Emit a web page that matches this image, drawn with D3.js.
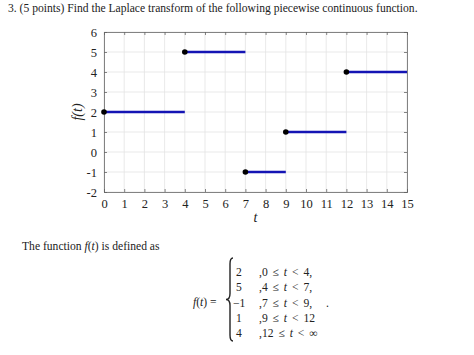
<!DOCTYPE html>
<html>
<head>
<meta charset="utf-8">
<script src="https://cdn.jsdelivr.net/npm/d3@7"></script>
<style>
  body { margin: 0; background: #fff; }
  svg text { font-family: "Liberation Serif", "DejaVu Serif", serif; fill: #222; }
</style>
</head>
<body>
<div id="chart"></div>
<script>
// piecewise data
const starts = [0, 4, 7, 9, 12];
const ends = [4, 7, 9, 12, 15];
const values = [2, 5, -1, 1, 4];
const xTicks = d3.range(0, 16);
const yTicks = d3.range(-2, 7);
const caseVals = ["2", "5", "\u22121", "1", "4"];
const caseConds = [",0 \u2264 t < 4,", ",4 \u2264 t < 7,", ",7 \u2264 t < 9,", ",9 \u2264 t < 12", ",12 \u2264 t < \u221e"];

const w = 474, h = 355;
const fs = "11.6px";
const svg = d3.select("#chart").append("svg").attr("width", w).attr("height", h);

// title
svg.append("text").attr("x", 8).attr("y", 12).style("font-size", fs)
  .text("3. (5 points) Find the Laplace transform of the following piecewise continuous function.");

const x = d3.scaleLinear().domain([0, 15]).range([104, 407]);
const y = d3.scaleLinear().domain([-2, 6]).range([192, 32]);

// grid
svg.append("g").selectAll("line").data(xTicks).enter().append("line")
  .attr("x1", d => x(d)).attr("x2", d => x(d)).attr("y1", y(-2)).attr("y2", y(6))
  .style("stroke", "#e3e3e3").style("stroke-width", 0.8);
svg.append("g").selectAll("line").data(yTicks).enter().append("line")
  .attr("y1", d => y(d)).attr("y2", d => y(d)).attr("x1", x(0)).attr("x2", x(15))
  .style("stroke", "#e3e3e3").style("stroke-width", 0.8);

// axes with inward ticks
const fmt = d => String(d);
svg.append("g").attr("transform", "translate(0," + y(-2) + ")")
  .call(d3.axisBottom(x).tickValues(xTicks).tickSize(-3).tickPadding(7).tickFormat(fmt));
svg.append("g").attr("transform", "translate(" + x(0) + ",0)")
  .call(d3.axisLeft(y).tickValues(yTicks).tickSize(-3).tickPadding(7).tickFormat(fmt));
svg.append("g").attr("transform", "translate(" + x(15) + ",0)")
  .call(d3.axisRight(y).tickValues(yTicks).tickSize(-3).tickFormat(""));
svg.append("g").attr("transform", "translate(0," + y(6) + ")")
  .call(d3.axisTop(x).tickValues(xTicks).tickSize(-3).tickFormat(""));
svg.selectAll(".domain, .tick line").style("stroke", "#666").style("stroke-width", 0.8);
svg.selectAll(".tick text").style("font-family", "Liberation Serif").style("font-size", "12.5px").style("fill", "#222");

// axis labels
svg.append("text").attr("x", x(7.5)).attr("y", 222).attr("text-anchor", "middle")
  .style("font-size", "14px").style("font-style", "italic").text("t");
svg.append("text").attr("transform", "translate(82," + y(2) + ") rotate(-90)").attr("text-anchor", "middle")
  .style("font-size", "14px").style("font-style", "italic").text("f(t)");

// segments
const segs = starts.map((s, i) => ({s: s, e: ends[i], v: values[i]}));
svg.append("g").selectAll("line").data(segs).enter().append("line")
  .attr("x1", d => x(d.s)).attr("x2", d => x(d.e)).attr("y1", d => y(d.v)).attr("y2", d => y(d.v))
  .style("stroke", "#1414b4").style("stroke-width", 2.5);
svg.append("g").selectAll("circle").data(segs).enter().append("circle")
  .attr("cx", d => x(d.s)).attr("cy", d => y(d.v)).attr("r", 2.8).style("fill", "#000");

// text below
const t2 = svg.append("text").attr("x", 22).attr("y", 250).style("font-size", fs);
t2.append("tspan").text("The function ");
t2.append("tspan").style("font-style", "italic").text("f");
t2.append("tspan").text("(");
t2.append("tspan").style("font-style", "italic").text("t");
t2.append("tspan").text(") is defined as");

const eq = svg.append("text").attr("x", 193).attr("y", 306).style("font-size", fs);
eq.append("tspan").style("font-style", "italic").text("f");
eq.append("tspan").text("(");
eq.append("tspan").style("font-style", "italic").text("t");
eq.append("tspan").text(") =");

// brace
const bx = 230, bt = 258, bb = 341, bm = (bt + bb) / 2;
svg.append("path")
  .attr("d", `M${bx + 3},${bt} Q${bx},${bt} ${bx},${bt + 6} L${bx},${bm - 6} Q${bx},${bm} ${bx - 4},${bm} Q${bx},${bm} ${bx},${bm + 6} L${bx},${bb - 6} Q${bx},${bb} ${bx + 3},${bb}`)
  .style("fill", "none").style("stroke", "#222").style("stroke-width", 1.4);

const rowY = d3.scaleLinear().domain([0, 4]).range([276, 337]);
caseVals.forEach((v, i) => {
  svg.append("text").attr("x", v.length > 1 ? 233 : 236).attr("y", rowY(i)).style("font-size", fs).text(v);
  const c = svg.append("text").attr("x", 259).attr("y", rowY(i)).style("font-size", fs)
    .style("word-spacing", "2px");
  const parts = caseConds[i].split("t");
  c.append("tspan").text(parts[0]);
  c.append("tspan").style("font-style", "italic").text("t");
  c.append("tspan").text(parts[1]);
});
svg.append("text").attr("x", 326).attr("y", rowY(2)).style("font-size", fs).text(".");
</script>
</body>
</html>
